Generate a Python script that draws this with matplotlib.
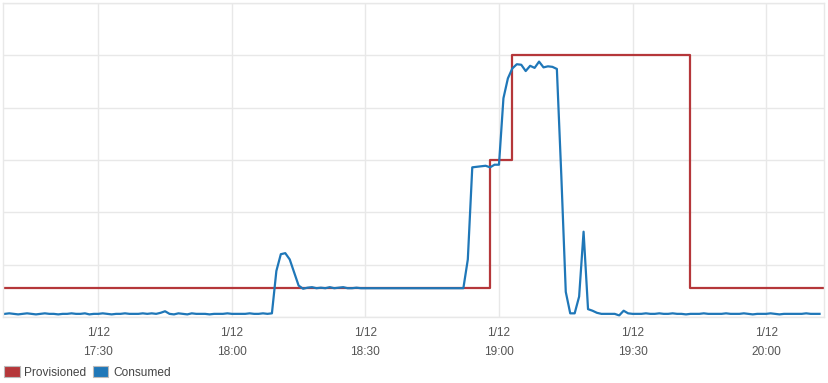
import matplotlib
matplotlib.use("Agg")
import matplotlib.pyplot as plt
from matplotlib.patches import Patch

plt.rcParams["font.family"] = ["Liberation Sans", "DejaVu Sans"]

# minutes after 17:00, one sample per minute
consumed_start = 9
consumed = [
    0.06, 0.07, 0.06, 0.05, 0.06, 0.07, 0.06, 0.05, 0.06, 0.07,
    0.06, 0.06, 0.05, 0.06, 0.06, 0.07, 0.06, 0.06, 0.07, 0.05,
    0.06, 0.06, 0.07, 0.06, 0.05, 0.06, 0.06, 0.07, 0.06, 0.06,
    0.06, 0.07, 0.06, 0.07, 0.06, 0.08, 0.11, 0.06, 0.05, 0.07,
    0.06, 0.05, 0.07, 0.06, 0.06, 0.06, 0.05, 0.06, 0.06, 0.06,
    0.07, 0.06, 0.06, 0.06, 0.06, 0.07, 0.06, 0.06, 0.07, 0.06,
    0.07, 0.88, 1.20, 1.22, 1.10, 0.85, 0.60, 0.54, 0.56, 0.57,
    0.55, 0.56, 0.55, 0.57, 0.55, 0.56, 0.57, 0.55, 0.55, 0.56,
    0.55, 0.55, 0.55, 0.55, 0.55, 0.55, 0.55, 0.55, 0.55, 0.55,
    0.55, 0.55, 0.55, 0.55, 0.55, 0.55, 0.55, 0.55, 0.55, 0.55,
    0.55, 0.55, 0.55, 0.55, 1.10, 2.86, 2.87, 2.88, 2.89, 2.86,
    2.91, 2.91, 4.18, 4.56, 4.75, 4.83, 4.82, 4.70, 4.80, 4.76,
    4.88, 4.77, 4.79, 4.78, 4.74, 2.70, 0.48, 0.07, 0.07, 0.39,
    1.63, 0.15, 0.12, 0.08, 0.06, 0.06, 0.06, 0.06, 0.03, 0.12,
    0.07, 0.06, 0.06, 0.06, 0.07, 0.06, 0.06, 0.07, 0.06, 0.06,
    0.07, 0.06, 0.06, 0.05, 0.06, 0.06, 0.06, 0.07, 0.06, 0.06,
    0.06, 0.06, 0.07, 0.06, 0.06, 0.06, 0.07, 0.06, 0.05, 0.06,
    0.06, 0.06, 0.07, 0.06, 0.05, 0.06, 0.06, 0.06, 0.06, 0.06,
    0.07, 0.06, 0.06, 0.06,
]
consumed_minutes = list(range(consumed_start, consumed_start + len(consumed)))

provisioned_minutes = [8, 118, 123, 163, 194]
provisioned = [0.55, 3.0, 5.0, 0.55, 0.55]

tick_minutes = [30, 60, 90, 120, 150, 180]
tick_labels = ["1/12\n17:30", "1/12\n18:00", "1/12\n18:30",
               "1/12\n19:00", "1/12\n19:30", "1/12\n20:00"]

red = "#b5373a"
blue = "#1f77b8"
grid = "#e8e8e8"

fig = plt.figure(figsize=(8.29, 3.83), dpi=100)
ax = fig.add_axes([3 / 829, 1 - 317 / 383, 821 / 829, 314 / 383])

ax.plot(provisioned_minutes, provisioned, drawstyle="steps-post",
        color=red, lw=1.6, label="Provisioned")
ax.plot(consumed_minutes, consumed, color=blue, lw=1.6, label="Consumed")

ax.set_xlim(8.6, 193.0)
ax.set_ylim(0, 6)
ax.set_yticks(range(0, 7))
ax.set_yticklabels([])
ax.set_xticks(tick_minutes)
ax.set_xticklabels(tick_labels, linespacing=1.7)
ax.tick_params(axis="both", length=0, colors="#555555", labelsize=8.6)
ax.tick_params(axis="x", pad=7.5)
ax.grid(True, color=grid, lw=1)
ax.set_axisbelow(True)
for s in ax.spines.values():
    s.set_color(grid)
    s.set_linewidth(1)

handles = [Patch(facecolor=red, edgecolor="#bbbbbb", lw=0.8, label="Provisioned"),
           Patch(facecolor=blue, edgecolor="#bbbbbb", lw=0.8, label="Consumed")]
leg = fig.legend(handles=handles, loc="lower left", bbox_to_anchor=(0.0, 0.0),
                 ncol=2, frameon=False, fontsize=8.6, borderpad=0.35,
                 borderaxespad=0, handlelength=1.3, handleheight=1.0,
                 handletextpad=0.4, columnspacing=0.5)
for t in leg.get_texts():
    t.set_color("#444444")

fig.savefig("out.png", dpi=100)
